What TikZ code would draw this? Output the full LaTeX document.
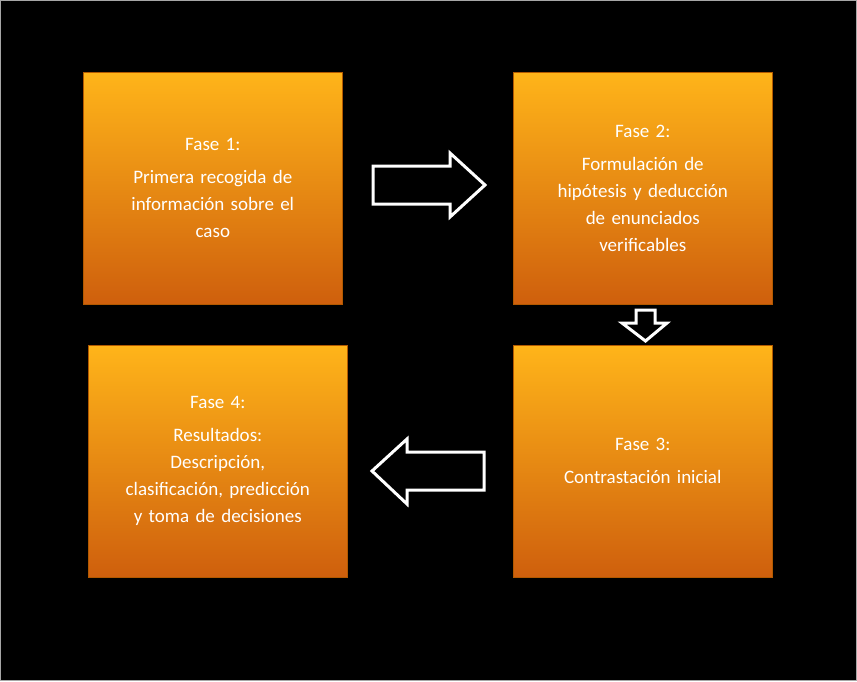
\documentclass[tikz,border=0pt]{standalone}
\usepackage{fontspec}
\setmainfont{Carlito}
\begin{document}
\begin{tikzpicture}[x=1pt,y=-1pt,
  fase/.style={minimum width=259pt,minimum height=232pt,anchor=north west,
    top color=orange!65!yellow!90!white, bottom color=orange!85!red!80!black!95,
    draw=orange!70!black, line width=0.6pt, text=white, align=center,
    font=\fontsize{19}{27}\selectfont, text width=250pt, inner sep=0pt},
  blk/.style={draw=white, fill=black, line width=3pt, line join=miter}]
\fill[black] (0,0) rectangle (857,681);
\draw[gray!70, line width=1.2pt] (0.6,0.6) rectangle (856.4,680.4);
\node[fase] (f1) at (83,72) {Fase 1:\\[6pt]Primera recogida de\\información sobre el\\caso};
\node[fase] (f2) at (513,72) {Fase 2:\\[6pt]Formulación de\\hipótesis y deducción\\de enunciados\\verificables};
\node[fase] (f3) at (513,345) {Fase 3:\\[6pt]Contrastación inicial};
\node[fase] (f4) at (88,345) {Fase 4:\\[6pt]Resultados:\\Descripción,\\clasificación, predicción\\y toma de decisiones};
\draw[blk] (373,166) -- (450,166) -- (450,153) -- (485,185) -- (450,217) -- (450,204) -- (373,204) -- cycle;
\draw[blk] (636,310) -- (655,310) -- (655,323) -- (667,323) -- (645.5,341) -- (622,323) -- (636,323) -- cycle;
\draw[blk] (484,452) -- (407,452) -- (407,439) -- (372,471) -- (407,504) -- (407,490) -- (484,490) -- cycle;
\end{tikzpicture}
\end{document}
